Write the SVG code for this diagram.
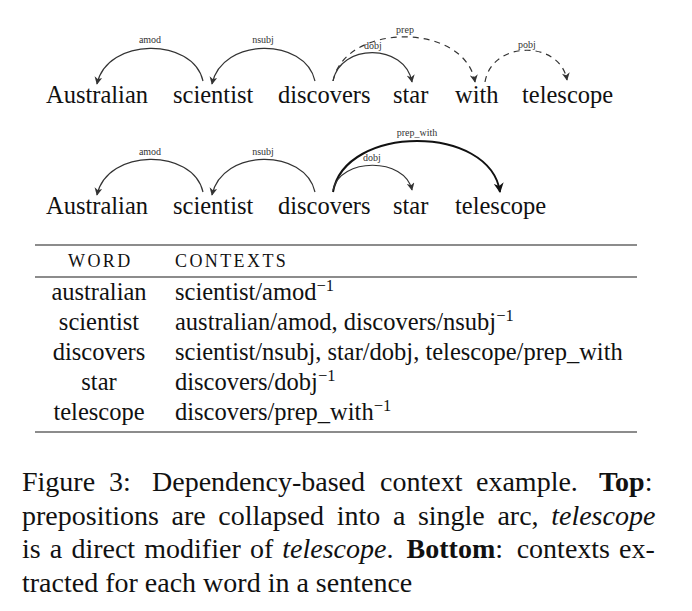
<svg xmlns="http://www.w3.org/2000/svg" width="692" height="611" viewBox="0 0 692 611">
<style>
text{font-family:"Liberation Serif","Times New Roman",serif;fill:#111}
.w{font-family:"Liberation Serif",serif;font-size:24.5px}
.lbl{font-family:"Liberation Serif",serif;font-size:10px;fill:#333;text-anchor:middle}
.arc{fill:none;stroke:#333;stroke-width:1.2}
.dash{stroke-dasharray:6,5}
.thick{stroke-width:2;stroke:#111}
.rule{stroke:#666;stroke-width:1.3}
.tb{font-family:"Liberation Serif",serif;font-size:24.5px}
.hd{font-family:"Liberation Serif",serif;font-size:18px;letter-spacing:2.4px}
.sup{font-size:16.5px}
.cap{font-family:"Liberation Serif",serif;font-size:28px}
.b{font-weight:bold}
.i{font-style:italic}
</style>
<defs>
<marker id="ah" viewBox="0 0 10 10" refX="9" refY="5" markerUnits="userSpaceOnUse" markerWidth="8" markerHeight="8" orient="auto">
<path d="M0,0 L10,5 L0,10 L3,5 z" fill="#333"/>
</marker>
<marker id="ahb" viewBox="0 0 10 10" refX="9" refY="5" markerUnits="userSpaceOnUse" markerWidth="10" markerHeight="10" orient="auto">
<path d="M0,0 L10,5 L0,10 L3,5 z" fill="#111"/>
</marker>
</defs>

<!-- Top dependency diagram -->
<g id="top-australian"><text class="w" x="46" y="103">Australian</text></g>
<g id="top-scientist"><text class="w" x="173" y="103">scientist</text></g>
<g id="top-discovers"><text class="w" x="278" y="103">discovers</text></g>
<g id="top-star"><text class="w" x="393" y="103">star</text></g>
<g id="top-with"><text class="w" x="455" y="103">with</text></g>
<g id="top-telescope"><text class="w" x="522" y="103">telescope</text></g>

<g id="top-connectors">
<path class="arc" d="M203,81 C193,37 107,37 97,84" marker-end="url(#ah)"/>
<text class="lbl" x="150" y="43">amod</text>
<path class="arc" d="M315,81 C305,37 222,37 212,84" marker-end="url(#ah)"/>
<text class="lbl" x="263" y="43">nsubj</text>
<text class="lbl" x="373" y="49">dobj</text>
<path class="arc dash" d="M333,81 C345,22 465,22 475,82" marker-end="url(#ah)"/>
<text class="lbl" x="405" y="33">prep</text>
<path class="arc" d="M333,81 C340,43 405,43 412,82" marker-end="url(#ah)"/>
<path class="arc dash" d="M485,82 C492,40 560,40 567,80" marker-end="url(#ah)"/>
<text class="lbl" x="527" y="48">pobj</text>
</g>

<!-- Bottom dependency diagram -->
<g id="bot-australian"><text class="w" x="46" y="214">Australian</text></g>
<g id="bot-scientist"><text class="w" x="173" y="214">scientist</text></g>
<g id="bot-discovers"><text class="w" x="278" y="214">discovers</text></g>
<g id="bot-star"><text class="w" x="393" y="214">star</text></g>
<g id="bot-telescope"><text class="w" x="455" y="214">telescope</text></g>

<g id="bottom-connectors">
<path class="arc" d="M203,192 C193,148 107,148 97,195" marker-end="url(#ah)"/>
<text class="lbl" x="150" y="155">amod</text>
<path class="arc" d="M315,192 C305,148 222,148 212,195" marker-end="url(#ah)"/>
<text class="lbl" x="263" y="155">nsubj</text>
<path class="arc thick" d="M333,192 C345,124 490,124 500,192" marker-end="url(#ahb)"/>
<text class="lbl" x="417" y="136">prep_with</text>
<path class="arc" d="M333,190 C340,157 405,157 412,190" marker-end="url(#ah)"/>
<text class="lbl" x="372" y="161">dobj</text>
</g>

<!-- Table -->
<g id="table">
<line class="rule" x1="35" y1="245" x2="637" y2="245"/>
<line class="rule" x1="35" y1="277" x2="637" y2="277"/>
<line class="rule" x1="35" y1="432" x2="637" y2="432"/>
<text class="hd" x="68" y="267">WORD</text>
<text class="hd" x="175" y="267">CONTEXTS</text>
<g text-anchor="middle">
<text class="tb" x="99" y="300">australian</text>
<text class="tb" x="99" y="330">scientist</text>
<text class="tb" x="99" y="360">discovers</text>
<text class="tb" x="99" y="390">star</text>
<text class="tb" x="99" y="420">telescope</text>
</g>
<text class="tb" x="175" y="300">scientist/amod<tspan class="sup" dy="-9">−1</tspan></text>
<text class="tb" x="175" y="330">australian/amod, discovers/nsubj<tspan class="sup" dy="-9">−1</tspan></text>
<text class="tb" x="175" y="360">scientist/nsubj, star/dobj, telescope/prep_with</text>
<text class="tb" x="175" y="390">discovers/dobj<tspan class="sup" dy="-9">−1</tspan></text>
<text class="tb" x="175" y="420">discovers/prep_with<tspan class="sup" dy="-9">−1</tspan></text>
</g>

<!-- Caption -->
<g id="caption">
<text class="cap" y="491"><tspan x="22">Figure</tspan><tspan x="109">3:</tspan><tspan x="152">Dependency-based</tspan><tspan x="380">context</tspan><tspan x="476">example.</tspan><tspan x="599" class="b">Top</tspan><tspan>:</tspan></text>
<text class="cap" y="525"><tspan x="22">prepositions</tspan><tspan x="171.5">are</tspan><tspan x="218.3">collapsed</tspan><tspan x="336.7">into</tspan><tspan x="392.9">a</tspan><tspan x="417.9">single</tspan><tspan x="497.4">arc,</tspan><tspan x="551.2" class="i">telescope</tspan></text>
<text class="cap" y="558"><tspan x="22">is</tspan><tspan x="49.8">a</tspan><tspan x="71.4">direct</tspan><tspan x="144.3">modifier</tspan><tspan x="249.9">of</tspan><tspan x="282.3" class="i">telescope</tspan><tspan>.</tspan><tspan x="406.6" class="b">Bottom</tspan><tspan>:</tspan><tspan x="516.7">contexts</tspan><tspan x="619.1">ex-</tspan></text>
<text class="cap" x="22" y="592">tracted for each word in a sentence</text>
</g>
</svg>
